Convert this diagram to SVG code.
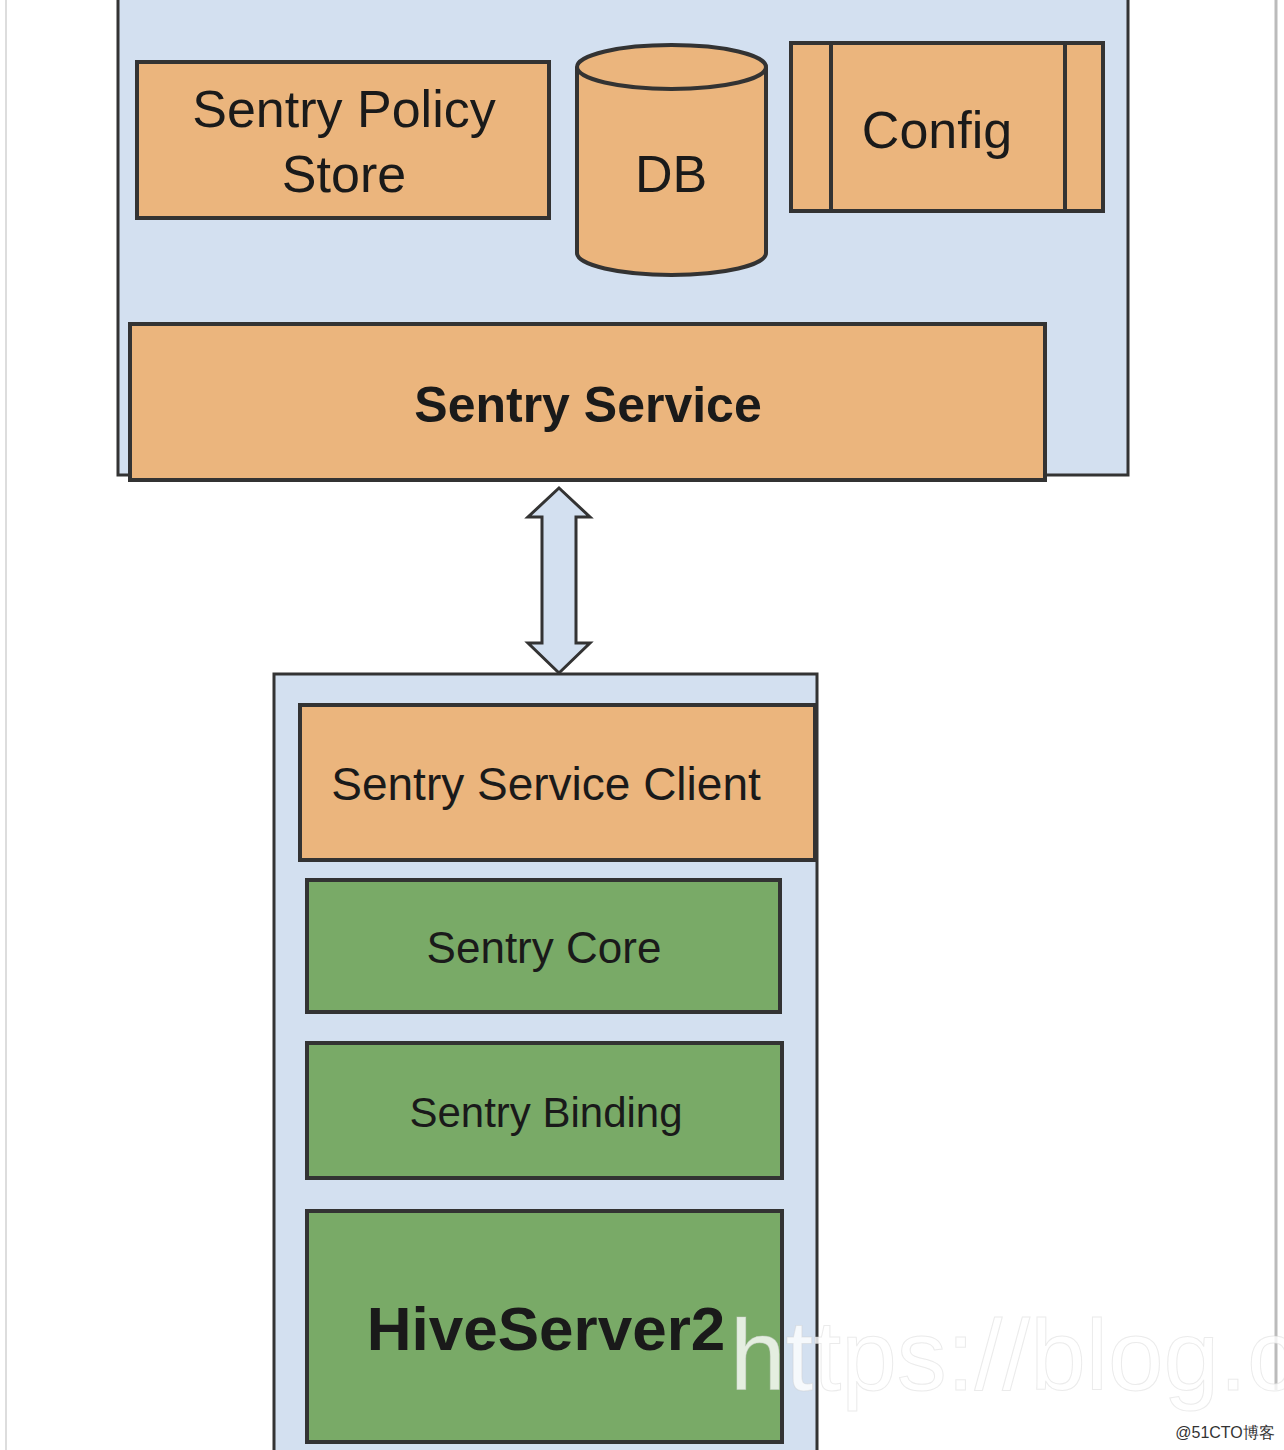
<svg xmlns="http://www.w3.org/2000/svg" width="1284" height="1450" viewBox="0 0 1284 1450">
<style>
.c{fill:#d3e0f0;stroke:#333;stroke-width:3}
.o{fill:#ebb57d;stroke:#333;stroke-width:4}
.g{fill:#79aa67;stroke:#333;stroke-width:4}
text{font-family:"Liberation Sans",Arial,sans-serif;text-anchor:middle;fill:#1a1a1a}
</style>
<rect width="1284" height="1450" fill="#fff"/>
<line x1="145" y1="5" x2="1110" y2="5" stroke="#ccc" stroke-width="3"/>
<line x1="1276" y1="0" x2="1276" y2="1390" stroke="#bbb" stroke-width="3"/>
<line x1="6" y1="0" x2="6" y2="1450" stroke="#ddd" stroke-width="2"/>
<g id="top"><rect class="c" x="118" y="-5" width="1010" height="480"/></g>
<g id="policy"><rect class="o" x="137" y="62" width="412" height="156"/>
<text x="344" y="127" font-size="52">Sentry Policy</text><text x="344" y="192" font-size="52">Store</text></g>
<g id="db"><path class="o" d="M577,67 V253 A94.5,22 0 0 0 766,253 V67"/><ellipse class="o" cx="671.5" cy="67" rx="94.5" ry="22" fill="#f2cca6"/>
<text x="671" y="192" font-size="52">DB</text></g>
<g id="config"><rect class="o" x="791" y="43" width="312" height="168"/><line x1="831" y1="43" x2="831" y2="211" stroke="#333" stroke-width="4"/><line x1="1065" y1="43" x2="1065" y2="211" stroke="#333" stroke-width="4"/>
<text x="937" y="148" font-size="52">Config</text></g>
<g id="service"><rect class="o" x="130" y="324" width="915" height="156"/>
<text x="588" y="422" font-size="50" font-weight="bold">Sentry Service</text></g>
<g id="connectors"><path d="M559,488 L590,517 L576,517 L576,643 L590,643 L559,673 L528,643 L542,643 L542,517 L528,517 Z" fill="#d3e0f0" stroke="#333" stroke-width="3"/></g>
<g id="bottom"><rect class="c" x="274" y="674" width="543" height="790"/></g>
<g id="client"><rect class="o" x="300" y="705" width="515" height="155"/>
<text x="546" y="800" font-size="46">Sentry Service Client</text></g>
<g id="core"><rect class="g" x="307" y="880" width="473" height="132"/>
<text x="544" y="963" font-size="44">Sentry Core</text></g>
<g id="binding"><rect class="g" x="307" y="1043" width="475" height="135"/>
<text x="546" y="1127" font-size="42">Sentry Binding</text></g>
<g id="hive"><rect class="g" x="307" y="1211" width="475" height="231"/>
<text x="546" y="1350" font-size="62" font-weight="bold">HiveServer2</text></g>
<text x="730" y="1390" font-size="100" style="text-anchor:start;fill:#fff;fill-opacity:0.8;stroke:#ccc;stroke-opacity:0.4">https://blog.c</text>
<text x="1225" y="1438" font-size="16" style="fill:#333">@51CTO博客</text>
</svg>
